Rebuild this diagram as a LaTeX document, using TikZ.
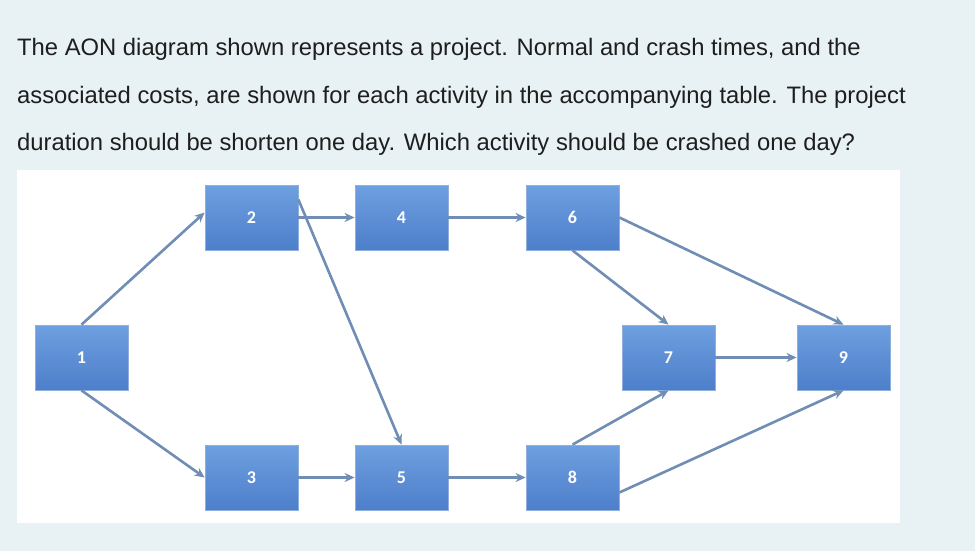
\documentclass[tikz,border=0pt]{standalone}
\usepackage{fontspec}
\usetikzlibrary{arrows.meta}
\setmainfont{Liberation Sans}
\newfontfamily\boxfont{Carlito}
\definecolor{bg}{HTML}{E8F1F4}
\definecolor{boxtop}{HTML}{6F9FE0}
\definecolor{boxbot}{HTML}{4D7FCB}
\definecolor{boxedge}{HTML}{8FB0DC}
\definecolor{linkc}{HTML}{6F8DB5}
\definecolor{txt}{HTML}{1E1E1E}
\begin{document}
\begin{tikzpicture}[x=1pt,y=-1pt,
  act/.style={draw=boxedge, line width=0.8pt, top color=boxtop, bottom color=boxbot,
    minimum width=93pt, minimum height=65pt, inner sep=0pt, text=white, font=\boxfont\bfseries\fontsize{18}{20}\selectfont},
  link/.style={draw=linkc, line width=2.6pt, -{Stealth[length=10pt,width=9pt]}}]
\fill[bg] (0,0) rectangle (975,551);
\fill[white] (17,170) rectangle (900,523);
\node[anchor=west, text=txt, font=\fontsize{23.8}{47.5}\selectfont, align=left, inner sep=0pt] (q) at (17,97)
 {The AON diagram shown represents a project. Normal and crash times, and the\\
  associated costs, are shown for each activity in the accompanying table. The project\\
  duration should be shorten one day. Which activity should be crashed one day?};
\node[act] (n1) at (81.5,357.5) {1};
\node[act] (n2) at (251.5,217.5) {2};
\node[act] (n4) at (401.5,217.5) {4};
\node[act] (n6) at (572.5,217.5) {6};
\node[act] (n7) at (668.5,357.5) {7};
\node[act] (n9) at (843.5,357.5) {9};
\node[act] (n3) at (251.5,477.5) {3};
\node[act] (n5) at (401.5,477.5) {5};
\node[act] (n8) at (572.5,477.5) {8};
\draw[link] (n1.north) -- ([yshift=5pt]n2.west);
\draw[link] (n1.south) -- (n3.west);
\draw[link] (n2.east) -- (n4.west);
\draw[link] ([yshift=-15pt]n2.north east) -- (n5.north);
\draw[link] (n4.east) -- (n6.west);
\draw[link] (n6.south) -- (n7.north);
\draw[link] (n6.east) -- (n9.north);
\draw[link] (n7.east) -- (n9.west);
\draw[link] (n3.east) -- (n5.west);
\draw[link] (n5.east) -- (n8.west);
\draw[link] (n8.north) -- (n7.south);
\draw[link] ([yshift=-15pt]n8.east) -- (n9.south);
\end{tikzpicture}
\end{document}
